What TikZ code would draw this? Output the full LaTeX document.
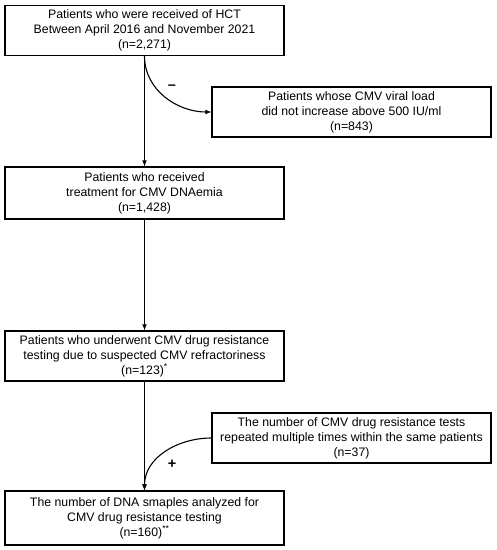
\documentclass[tikz,border=0pt]{standalone}
\usepackage{fontspec}
\setmainfont{Liberation Sans}
\usepackage{tikz}
\usetikzlibrary{arrows}

\begin{document}
\begin{tikzpicture}[x=1pt, y=-1pt,
    box/.style={draw, line width=1.1pt, minimum width=279pt, minimum height=50pt, align=center, inner sep=1pt, font=\fontsize{12.3}{15}\selectfont},
    wire/.style={line width=1.1pt, -latex}]
    	\useasboundingbox (0,0) rectangle (497,550);
    	% Paths, nodes and wires:
    	\node[box](N1) at (144.5, 30.5){Patients who were received of HCT\\Between April 2016 and November 2021\\(n=2,271)};
    	\node[box](N2) at (351.5, 112){Patients whose CMV viral load\\did not increase above 500 IU/ml\\(n=843)};
    	\node[box, minimum height=52pt](N3) at (144.5, 193){Patients who received\\treatment for CMV DNAemia\\(n=1,428)};
    	\node[box](N4) at (144.5, 356){Patients who underwent CMV drug resistance\\testing due to suspected CMV refractoriness\\(n=123)\textsuperscript{*}};
    	\node[box](N5) at (351.5, 438){The number of CMV drug resistance tests\\repeated multiple times within the same patients\\(n=37)};
    	\node[box, minimum height=54pt](N6) at (144.5, 518){The number of DNA smaples analyzed for\\CMV drug resistance testing\\(n=160)\textsuperscript{**}};
    	\draw[wire] (N1.south) -- (N3.north);
    	\draw[wire] (N3.south) -- (N4.north);
    	\draw[wire] (N4.south) -- (N6.north);
    	\draw[wire] (N1.south) to[out=-90, in=180] (N2.west);
    	\draw[wire] (N5.west) to[out=180, in=90] (N6.north);
    	\node[font=\bfseries\Large](M1) at (172, 87){--};
    	\node[font=\bfseries\Large](P1) at (172, 464){+};
    \end{tikzpicture}
\end{document}
